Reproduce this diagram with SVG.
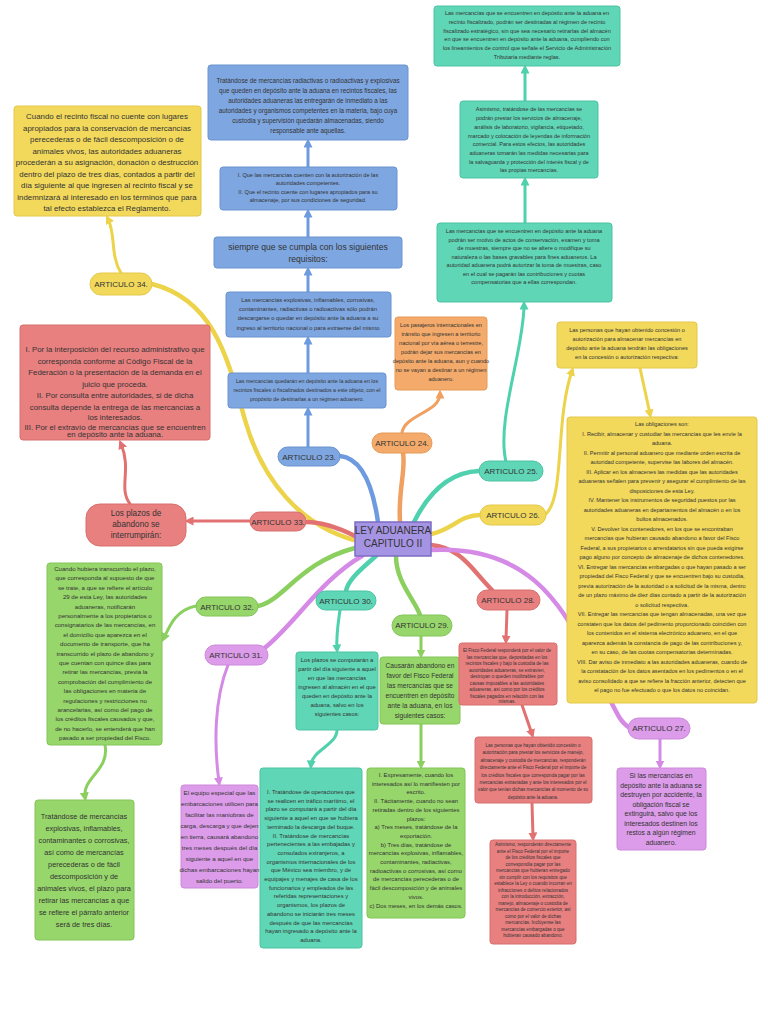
<svg xmlns="http://www.w3.org/2000/svg" width="768" height="1024" viewBox="0 0 768 1024">
<style>
text{font-family:"Liberation Sans",Arial,sans-serif;fill:#333;text-anchor:middle}
.yb{fill:#f2d95c;stroke:#e3c84a;stroke-width:1}
.bb{fill:#7ea6e0;stroke:#6a93d0;stroke-width:1}
.tb{fill:#5fd6b6;stroke:#4cc4a4;stroke-width:1}
.rb{fill:#e88080;stroke:#d86e6e;stroke-width:1}
.gb{fill:#97d66b;stroke:#84c458;stroke-width:1}
.pb{fill:#dc9ce9;stroke:#cc88da;stroke-width:1}
.ob{fill:#f4aa6a;stroke:#e59a58;stroke-width:1}
.c{fill:none;stroke-linecap:round}
.cy{stroke:#ecd34a}.cbl{stroke:#6e9be0}.ct{stroke:#4fd1ae}.cr{stroke:#e27272}.cg{stroke:#8bd05e}.cp{stroke:#d58ae6}.co{stroke:#f0a060}
.w{stroke-width:4.5}.s{stroke-width:3}
</style>
<defs>
<marker id="ay" viewBox="0 0 6 6" refX="3" refY="3" markerWidth="3" markerHeight="3" orient="auto"><path d="M0,0L6,3L0,6z" fill="#ecd34a"/></marker>
<marker id="ab" viewBox="0 0 6 6" refX="3" refY="3" markerWidth="3" markerHeight="3" orient="auto"><path d="M0,0L6,3L0,6z" fill="#6e9be0"/></marker>
<marker id="at" viewBox="0 0 6 6" refX="3" refY="3" markerWidth="3" markerHeight="3" orient="auto"><path d="M0,0L6,3L0,6z" fill="#4fd1ae"/></marker>
<marker id="ar" viewBox="0 0 6 6" refX="3" refY="3" markerWidth="3" markerHeight="3" orient="auto"><path d="M0,0L6,3L0,6z" fill="#e27272"/></marker>
<marker id="ag" viewBox="0 0 6 6" refX="3" refY="3" markerWidth="3" markerHeight="3" orient="auto"><path d="M0,0L6,3L0,6z" fill="#8bd05e"/></marker>
<marker id="ap" viewBox="0 0 6 6" refX="3" refY="3" markerWidth="3" markerHeight="3" orient="auto"><path d="M0,0L6,3L0,6z" fill="#d58ae6"/></marker>
<marker id="ao" viewBox="0 0 6 6" refX="3" refY="3" markerWidth="3" markerHeight="3" orient="auto"><path d="M0,0L6,3L0,6z" fill="#f0a060"/></marker>
</defs>
<rect width="768" height="1024" fill="#fff"/>

<g id="connectors">
<path class="c cy w" d="M354 540 C 300 525, 262 480, 245 420 S 215 300, 152 284"/>
<path class="c cr w" d="M355 536 C 335 526, 320 522, 306 522"/>
<path class="c cbl w" d="M378 522 C 372 480, 360 458, 340 456"/>
<path class="c co w" d="M400 522 C 398 490, 406 470, 403 453"/>
<path class="c ct w" d="M414 522 C 430 490, 452 472, 479 471"/>
<path class="c cy w" d="M431 534 C 452 530, 460 515, 480 515"/>
<path class="c cr w" d="M431 545 C 462 548, 472 570, 492 590"/>
<path class="c cp w" d="M431 550 C 525 545, 560 600, 590 660 S 620 722, 630 728"/>
<path class="c cg w" d="M396 556 C 396 582, 415 600, 420 615"/>
<path class="c ct w" d="M376 556 C 360 570, 348 580, 346 591"/>
<path class="c cg w" d="M355 548 C 300 562, 282 602, 258 606"/>
<path class="c cp w" d="M362 556 C 320 580, 292 628, 262 650"/>
<path class="c cy s" d="M121 273 C 110 255, 116 235, 108 219" marker-end="url(#ay)"/>
<path class="c cr s" d="M250 521 L 189 521" marker-end="url(#ar)"/>
<path class="c cr s" d="M130 504 C 118 488, 132 470, 121 444" marker-end="url(#ar)"/>
<path class="c cbl s" d="M308 447 L 308 411" marker-end="url(#ab)"/>
<path class="c cbl s" d="M308 373 L 308 340" marker-end="url(#ab)"/>
<path class="c cbl s" d="M308 292 L 308 271" marker-end="url(#ab)"/>
<path class="c cbl s" d="M308 237 L 308 213" marker-end="url(#ab)"/>
<path class="c cbl s" d="M308 167 L 308 143" marker-end="url(#ab)"/>
<path class="c co s" d="M402 433 C 404 415, 440 412, 440 394" marker-end="url(#ao)"/>
<path class="c ct s" d="M506 462 C 496 420, 524 350, 524 305" marker-end="url(#at)"/>
<path class="c ct s" d="M525 223 L 525 181" marker-end="url(#at)"/>
<path class="c ct s" d="M525 101 L 525 69" marker-end="url(#at)"/>
<path class="c cy s" d="M546 514 C 565 495, 555 420, 572 371" marker-end="url(#ay)"/>
<path class="c cy s" d="M640 368 L 650 414" marker-end="url(#ay)"/>
<path class="c cr s" d="M507 610 L 506 640" marker-end="url(#ar)"/>
<path class="c cr s" d="M522 705 L 532 734" marker-end="url(#ar)"/>
<path class="c cr s" d="M532 803 L 533 837" marker-end="url(#ar)"/>
<path class="c cp s" d="M660 739 L 660 765" marker-end="url(#ap)"/>
<path class="c cg s" d="M421 636 L 421 654" marker-end="url(#ag)"/>
<path class="c cg s" d="M421 724 L 421 765" marker-end="url(#ag)"/>
<path class="c ct s" d="M340 610 C 338 625, 336 635, 337 649" marker-end="url(#at)"/>
<path class="c ct s" d="M337 730 C 337 745, 312 750, 311 765" marker-end="url(#at)"/>
<path class="c cg s" d="M196 606 C 176 610, 170 625, 164 638" marker-end="url(#ag)"/>
<path class="c cg s" d="M105 745 C 110 770, 82 778, 85 797" marker-end="url(#ag)"/>
<path class="c cp s" d="M228 665 C 214 700, 214 745, 219 782" marker-end="url(#ap)"/>
</g>

<g id="center">
<rect x="355" y="522" width="76" height="34" fill="#a594e3" stroke="#7d6cc4" stroke-width="1.5"/>
<text x="393" y="534" font-size="10">LEY ADUANERA</text>
<text x="393" y="547" font-size="10">CAPITULO II</text>
</g>

<g id="art34">
<rect x="90" y="273" width="62" height="22" rx="11" class="yb"/>
<text x="121" y="287" font-size="8">ARTICULO 34.</text>
</g>
<g id="art33">
<rect x="250" y="512" width="56" height="19" rx="9.5" class="rb"/>
<text x="278" y="525" font-size="8">ARTICULO 33.</text>
</g>
<g id="art23">
<rect x="278" y="447" width="62" height="19" rx="9.5" class="bb"/>
<text x="309" y="460" font-size="8">ARTICULO 23.</text>
</g>
<g id="art24">
<rect x="372" y="433" width="60" height="20" rx="10" class="ob"/>
<text x="402" y="446" font-size="8">ARTICULO 24.</text>
</g>
<g id="art25">
<rect x="479" y="461" width="64" height="20" rx="10" class="tb"/>
<text x="511" y="474" font-size="8">ARTICULO 25.</text>
</g>
<g id="art26">
<rect x="480" y="505" width="66" height="20" rx="10" class="yb"/>
<text x="513" y="518" font-size="8">ARTICULO 26.</text>
</g>
<g id="art28">
<rect x="477" y="590" width="63" height="20" rx="10" class="rb"/>
<text x="508" y="603" font-size="8">ARTICULO 28.</text>
</g>
<g id="art27">
<rect x="628" y="718" width="62" height="21" rx="10.5" class="pb"/>
<text x="659" y="731" font-size="8">ARTICULO 27.</text>
</g>
<g id="art29">
<rect x="392" y="615" width="60" height="21" rx="10.5" class="gb"/>
<text x="422" y="628" font-size="8">ARTICULO 29.</text>
</g>
<g id="art30">
<rect x="316" y="591" width="60" height="19" rx="9.5" class="tb"/>
<text x="346" y="604" font-size="8">ARTICULO 30.</text>
</g>
<g id="art32">
<rect x="196" y="597" width="62" height="19" rx="9.5" class="gb"/>
<text x="227" y="610" font-size="8">ARTICULO 32.</text>
</g>
<g id="art31">
<rect x="205" y="645" width="63" height="20" rx="10" class="pb"/>
<text x="236" y="658" font-size="8">ARTICULO 31.</text>
</g>

<g id="yellow-left">
<rect x="14" y="106" width="187" height="110" rx="3" class="yb"/>
<g font-size="7.9">
<text x="107" y="119">Cuando el recinto fiscal no cuente con lugares</text>
<text x="107" y="130.5">apropiados para la conservación de mercancías</text>
<text x="107" y="142">perecederas o de fácil descomposición o de</text>
<text x="107" y="153.5">animales vivos, las autoridades aduaneras</text>
<text x="107" y="165">procederán a su asignación, donación o destrucción</text>
<text x="107" y="176.5">dentro del plazo de tres días, contados a partir del</text>
<text x="107" y="188">día siguiente al que ingresen al recinto fiscal y se</text>
<text x="107" y="199.5">indemnizará al interesado en los términos que para</text>
<text x="107" y="211">tal efecto establezca el Reglamento.</text>
</g>
</g>

<g id="red-left">
<rect x="20" y="325" width="190" height="115" rx="3" class="rb"/>
<g font-size="7.8">
<text x="115" y="352">I. Por la interposición del recurso administrativo que</text>
<text x="115" y="363.5">corresponda conforme al Código Fiscal de la</text>
<text x="115" y="375">Federación o la presentación de la demanda en el</text>
<text x="115" y="386.5">juicio que proceda.</text>
<text x="115" y="398">II. Por consulta entre autoridades, si de dicha</text>
<text x="115" y="409.5">consulta depende la entrega de las mercancías a</text>
<text x="115" y="420">los interesados.</text>
<text x="115" y="429.5">III. Por el extravío de mercancías que se encuentren</text>
<text x="115" y="437">en depósito ante la aduana.</text>
</g>
</g>

<g id="plazos">
<rect x="86" y="504" width="100" height="42" rx="14" class="rb"/>
<g font-size="8.2">
<text x="136" y="516">Los plazos de</text>
<text x="136" y="527">abandono  se</text>
<text x="136" y="538">interrumpirán:</text>
</g>
</g>

<g id="blue1">
<rect x="208" y="65" width="200" height="75" rx="3" class="bb"/>
<g font-size="6.3">
<text x="308" y="83">Tratándose de mercancías radiactivas o radioactivas y explosivas</text>
<text x="308" y="93">que queden en depósito ante la aduana en recintos fiscales, las</text>
<text x="308" y="103">autoridades aduaneras las entregarán de inmediato a las</text>
<text x="308" y="113">autoridades y organismos competentes en la materia, bajo cuya</text>
<text x="308" y="123">custodia y supervisión quedarán almacenadas, siendo</text>
<text x="308" y="133">responsable ante aquellas.</text>
</g>
</g>
<g id="blue2">
<rect x="220" y="167" width="177" height="43" rx="3" class="bb"/>
<g font-size="5.6">
<text x="308" y="177">I. Que las mercancías cuenten con la autorización de las</text>
<text x="308" y="185">autoridades competentes.</text>
<text x="308" y="194">II. Que el recinto cuente con lugares apropiados para su</text>
<text x="308" y="202">almacenaje, por sus condiciones de seguridad.</text>
</g>
</g>
<g id="blue3">
<rect x="214" y="237" width="188" height="31" rx="3" class="bb"/>
<g font-size="8.6">
<text x="308" y="250">siempre que se cumpla con los siguientes</text>
<text x="308" y="262">requisitos:</text>
</g>
</g>
<g id="blue4">
<rect x="226" y="292" width="165" height="45" rx="3" class="bb"/>
<g font-size="5.8">
<text x="308" y="302">Las mercancías explosivas, inflamables, corrosivas,</text>
<text x="308" y="311">contaminantes, radiactivas o radioactivas sólo podrán</text>
<text x="308" y="320">descargarse o quedar en depósito ante la aduana a su</text>
<text x="308" y="329.5">ingreso al territorio nacional o para extraerse del mismo</text>
</g>
</g>
<g id="blue5">
<rect x="228" y="373" width="158" height="35" rx="3" class="bb"/>
<g font-size="5.3">
<text x="307" y="383">Las mercancías quedarán en depósito ante la aduana en los</text>
<text x="307" y="392">recintos fiscales o fiscalizados destinados a este objeto, con el</text>
<text x="307" y="401">propósito de destinarlas a un régimen aduanero.</text>
</g>
</g>

<g id="teal1">
<rect x="434" y="6" width="186" height="60" rx="3" class="tb"/>
<g font-size="5.6">
<text x="527" y="15">Las mercancías que se encuentren en depósito ante la aduana en</text>
<text x="527" y="24">recinto fiscalizado, podrán ser destinadas al régimen de recinto</text>
<text x="527" y="32.5">fiscalizado estratégico, sin que sea necesario retirarlas del almacén</text>
<text x="527" y="41">en que se encuentren en depósito ante la aduana, cumpliendo con</text>
<text x="527" y="50">los lineamientos de control que señale el Servicio de Administración</text>
<text x="527" y="58.5">Tributaria mediante reglas.</text>
</g>
</g>
<g id="teal2">
<rect x="460" y="101" width="138" height="77" rx="3" class="tb"/>
<g font-size="5.5">
<text x="529" y="111">Asimismo, tratándose de las mercancías se</text>
<text x="529" y="120">podrán prestar los servicios de almacenaje,</text>
<text x="529" y="128.5">análisis de laboratorio, vigilancia, etiquetado,</text>
<text x="529" y="137.5">marcado y colocación de leyendas de información</text>
<text x="529" y="146">comercial. Para estos efectos, las autoridades</text>
<text x="529" y="155">aduaneras tomarán las medidas necesarias para</text>
<text x="529" y="163.5">la salvaguarda y protección del interés fiscal y de</text>
<text x="529" y="172">las propias mercancías.</text>
</g>
</g>
<g id="teal3">
<rect x="437" y="223" width="175" height="79" rx="3" class="tb"/>
<g font-size="5.6">
<text x="524" y="233">Las mercancías que se encuentren en depósito ante la aduana</text>
<text x="524" y="241.5">podrán ser motivo de actos de conservación, examen y toma</text>
<text x="524" y="250">de muestras, siempre que no se altere o modifique su</text>
<text x="524" y="258.5">naturaleza o las bases gravables para fines aduaneros. La</text>
<text x="524" y="267">autoridad aduanera podrá autorizar la toma de muestras, caso</text>
<text x="524" y="275.5">en el cual se pagarán las contribuciones y cuotas</text>
<text x="524" y="284">compensatorias que a ellas correspondan.</text>
</g>
</g>

<g id="orange">
<rect x="395" y="317" width="92" height="73" rx="3" class="ob"/>
<g font-size="5.6">
<text x="441" y="327">Los pasajeros internacionales en</text>
<text x="441" y="336">tránsito que ingresen a territorio</text>
<text x="441" y="345">nacional por vía aérea o terrestre,</text>
<text x="441" y="354">podrán dejar sus mercancías en</text>
<text x="441" y="363">depósito ante la aduana, aun y cuando</text>
<text x="441" y="372">no se vayan a destinar a un régimen</text>
<text x="441" y="381">aduanero.</text>
</g>
</g>

<g id="yellow-top-right">
<rect x="557" y="322" width="140" height="46" rx="3" class="yb"/>
<g font-size="5.6">
<text x="627" y="332">Las personas que hayan obtenido concesión o</text>
<text x="627" y="341">autorización para almacenar mercancías en</text>
<text x="627" y="350">depósito ante la aduana tendrán las obligaciones</text>
<text x="627" y="359">en la concesión o autorización respectiva:</text>
</g>
</g>

<g id="yellow-right">
<rect x="567" y="417" width="190" height="286" rx="3" class="yb"/>
<g font-size="5.6">
<text x="662" y="426">Las obligaciones son:</text>
<text x="662" y="435.5">I. Recibir, almacenar y custodiar las mercancías que les envíe la</text>
<text x="662" y="445">aduana.</text>
<text x="662" y="454.5">II. Permitir al personal aduanero que mediante orden escrita de</text>
<text x="662" y="464">autoridad competente, supervise las labores del almacén.</text>
<text x="662" y="473.5">III. Aplicar en los almacenes las medidas que las autoridades</text>
<text x="662" y="483">aduaneras señalen para prevenir y asegurar el cumplimiento de las</text>
<text x="662" y="492.5">disposiciones de esta Ley.</text>
<text x="662" y="502">IV. Mantener los instrumentos de seguridad puestos por las</text>
<text x="662" y="511.5">autoridades aduaneras en departamentos del almacén o en los</text>
<text x="662" y="521">bultos almacenados.</text>
<text x="662" y="530.5">V. Devolver los contenedores, en los que se encontraban</text>
<text x="662" y="540">mercancías que hubieran causado abandono a favor del Fisco</text>
<text x="662" y="549.5">Federal, a sus propietarios o arrendatarios sin que pueda exigirse</text>
<text x="662" y="559">pago alguno por concepto de almacenaje de dichos contenedores.</text>
<text x="662" y="568.5">VI. Entregar las mercancías embargadas o que hayan pasado a ser</text>
<text x="662" y="578">propiedad del Fisco Federal y que se encuentren bajo su custodia,</text>
<text x="662" y="587.5">previa autorización de la autoridad o a solicitud de la misma, dentro</text>
<text x="662" y="597">de un plazo máximo de diez días contado a partir de la autorización</text>
<text x="662" y="606.5">o solicitud respectiva.</text>
<text x="662" y="616">VII. Entregar las mercancías que tengan almacenadas, una vez que</text>
<text x="662" y="625.5">constaten que los datos del pedimento proporcionado coinciden con</text>
<text x="662" y="635">los contenidos en el sistema electrónico aduanero, en el que</text>
<text x="662" y="644.5">aparezca además la constancia de pago de las contribuciones y,</text>
<text x="662" y="654">en su caso, de las cuotas compensatorias determinadas.</text>
<text x="662" y="663.5">VIII. Dar aviso de inmediato a las autoridades aduaneras, cuando de</text>
<text x="662" y="673">la constatación de los datos asentados en los pedimentos o en el</text>
<text x="662" y="682.5">aviso consolidado a que se refiere la fracción anterior, detecten que</text>
<text x="662" y="692">el pago no fue efectuado o que los datos no coincidan.</text>
</g>
</g>

<g id="green-left">
<rect x="47" y="563" width="115" height="182" rx="3" class="gb"/>
<g font-size="6.1">
<text x="105" y="571">Cuando hubiera transcurrido el plazo,</text>
<text x="105" y="580.4">que corresponda al supuesto de que</text>
<text x="105" y="589.8">se trate, a que se refiere el artículo</text>
<text x="105" y="599.2">29 de esta Ley, las autoridades</text>
<text x="105" y="608.6">aduaneras,  notificarán</text>
<text x="105" y="618">personalmente a los propietarios o</text>
<text x="105" y="627.4">consignatarios de las mercancías, en</text>
<text x="105" y="636.8">el domicilio que aparezca en el</text>
<text x="105" y="646.2">documento de transporte, que ha</text>
<text x="105" y="655.6">transcurrido el plazo de abandono y</text>
<text x="105" y="665">que cuentan con quince días para</text>
<text x="105" y="674.4">retirar las mercancías, previa la</text>
<text x="105" y="683.8">comprobación del cumplimiento de</text>
<text x="105" y="693.2">las obligaciones en materia de</text>
<text x="105" y="702.6">regulaciones y restricciones no</text>
<text x="105" y="712">arancelarias, así como del pago de</text>
<text x="105" y="721.4">los créditos fiscales causados y que,</text>
<text x="105" y="730.8">de no hacerlo, se entenderá que han</text>
<text x="105" y="740.2">pasado a ser propiedad del Fisco.</text>
</g>
</g>

<g id="green-left-bottom">
<rect x="35" y="800" width="99" height="140" rx="3" class="gb"/>
<g font-size="7.3">
<text x="84" y="819">Tratándose de mercancías</text>
<text x="84" y="831">explosivas, inflamables,</text>
<text x="84" y="843">contaminantes o corrosivas,</text>
<text x="84" y="855">así como de mercancías</text>
<text x="84" y="867">perecederas o de fácil</text>
<text x="84" y="879">descomposición y de</text>
<text x="84" y="891">animales vivos, el plazo para</text>
<text x="84" y="903">retirar las mercancías a que</text>
<text x="84" y="915">se refiere el párrafo anterior</text>
<text x="84" y="927">será de tres días.</text>
</g>
</g>

<g id="purple-31">
<rect x="181" y="785" width="77" height="103" rx="3" class="pb"/>
<g font-size="6.2">
<text x="219.5" y="795">El equipo especial que las</text>
<text x="219.5" y="806">embarcaciones utilicen para</text>
<text x="219.5" y="817">facilitar las maniobras de</text>
<text x="219.5" y="828">carga, descarga y que dejen</text>
<text x="219.5" y="839">en tierra, causará abandono</text>
<text x="219.5" y="850">tres meses después del día</text>
<text x="219.5" y="861">siguiente a aquel en que</text>
<text x="219.5" y="872">dichas embarcaciones hayan</text>
<text x="219.5" y="883">salido del puerto.</text>
</g>
</g>

<g id="teal-30">
<rect x="296" y="652" width="82" height="78" rx="3" class="tb"/>
<g font-size="5.8">
<text x="337" y="662">Los plazos se computarán a</text>
<text x="337" y="671">partir del día siguiente a aquel</text>
<text x="337" y="680">en que las mercancías</text>
<text x="337" y="689">ingresen al almacén en el que</text>
<text x="337" y="698">queden en depósito ante la</text>
<text x="337" y="707">aduana, salvo en los</text>
<text x="337" y="716">siguientes casos:</text>
</g>
</g>

<g id="teal-30b">
<rect x="260" y="768" width="102" height="180" rx="3" class="tb"/>
<g font-size="5.9">
<text x="311" y="794">I. Tratándose de operaciones que</text>
<text x="311" y="802.7">se realicen en tráfico marítimo, el</text>
<text x="311" y="811.4">plazo se computará a partir del día</text>
<text x="311" y="820.1">siguiente a aquel en que se hubiera</text>
<text x="311" y="828.8">terminado la descarga del buque.</text>
<text x="311" y="837.5">II. Tratándose de mercancías</text>
<text x="311" y="846.2">pertenecientes a las embajadas y</text>
<text x="311" y="854.9">consulados extranjeros, a</text>
<text x="311" y="863.6">organismos internacionales de los</text>
<text x="311" y="872.3">que México sea miembro, y de</text>
<text x="311" y="881">equipajes y menajes de casa de los</text>
<text x="311" y="889.7">funcionarios y empleados de las</text>
<text x="311" y="898.4">referidas representaciones y</text>
<text x="311" y="907.1">organismos, los plazos de</text>
<text x="311" y="915.8">abandono se iniciarán tres meses</text>
<text x="311" y="924.5">después de que las mercancías</text>
<text x="311" y="933.2">hayan ingresado a depósito ante la</text>
<text x="311" y="941.9">aduana.</text>
</g>
</g>

<g id="green-29">
<rect x="380" y="657" width="80" height="67" rx="3" class="gb"/>
<g font-size="6.6">
<text x="420" y="668">Causarán abandono en</text>
<text x="420" y="678">favor del Fisco Federal</text>
<text x="420" y="688">las mercancías que se</text>
<text x="420" y="698">encuentren en depósito</text>
<text x="420" y="708">ante la aduana, en los</text>
<text x="420" y="718">siguientes casos:</text>
</g>
</g>

<g id="green-29b">
<rect x="367" y="768" width="98" height="150" rx="3" class="gb"/>
<g font-size="5.9">
<text x="416" y="777">I. Expresamente, cuando los</text>
<text x="416" y="785.7">interesados así lo manifiesten por</text>
<text x="416" y="794.4">escrito.</text>
<text x="416" y="803.1">II. Tácitamente, cuando no sean</text>
<text x="416" y="811.8">retiradas dentro de los siguientes</text>
<text x="416" y="820.5">plazos:</text>
<text x="416" y="829.2">a) Tres meses, tratándose de la</text>
<text x="416" y="837.9">exportación.</text>
<text x="416" y="846.6">b) Tres días, tratándose de</text>
<text x="416" y="855.3">mercancías explosivas, inflamables,</text>
<text x="416" y="864">contaminantes, radiactivas,</text>
<text x="416" y="872.7">radioactivas o corrosivas, así como</text>
<text x="416" y="881.4">de mercancías perecederas o de</text>
<text x="416" y="890.1">fácil descomposición y de animales</text>
<text x="416" y="898.8">vivos.</text>
<text x="416" y="907.5">c) Dos meses, en los demás casos.</text>
</g>
</g>

<g id="purple-27">
<rect x="617" y="768" width="89" height="82" rx="3" class="pb"/>
<g font-size="6.8">
<text x="661" y="778">Si las mercancías en</text>
<text x="661" y="787.5">depósito ante la aduana se</text>
<text x="661" y="797">destruyen por accidente, la</text>
<text x="661" y="806.5">obligación fiscal se</text>
<text x="661" y="816">extinguirá, salvo que los</text>
<text x="661" y="825.5">interesados destinen los</text>
<text x="661" y="835">restos a algún régimen</text>
<text x="661" y="844.5">aduanero.</text>
</g>
</g>

<g id="red-28a">
<rect x="459" y="643" width="98" height="62" rx="3" class="rb"/>
<g font-size="4.6">
<text x="507" y="652">El Fisco Federal responderá por el valor de</text>
<text x="507" y="658.5">las mercancías que, depositadas en los</text>
<text x="507" y="665">recintos fiscales y bajo la custodia de las</text>
<text x="507" y="671.5">autoridades aduaneras, se extravíen,</text>
<text x="507" y="678">destruyan o queden inutilizables por</text>
<text x="507" y="684.5">causas imputables a las autoridades</text>
<text x="507" y="691">aduaneras, así como por los créditos</text>
<text x="507" y="697.5">fiscales pagados en relación con las</text>
<text x="507" y="703">mismas.</text>
</g>
</g>

<g id="red-28b">
<rect x="475" y="737" width="117" height="66" rx="3" class="rb"/>
<g font-size="4.6">
<text x="533" y="747">Las personas que hayan obtenido concesión o</text>
<text x="533" y="754.4">autorización para prestar los servicios de manejo,</text>
<text x="533" y="761.8">almacenaje y custodia de mercancías, responderán</text>
<text x="533" y="769.2">directamente ante el Fisco Federal por el importe de</text>
<text x="533" y="776.6">los créditos fiscales que corresponda pagar por las</text>
<text x="533" y="784">mercancías extraviadas y ante los interesados por el</text>
<text x="533" y="791.4">valor que tenían dichas mercancías al momento de su</text>
<text x="533" y="798.8">depósito ante la aduana.</text>
</g>
</g>

<g id="red-28c">
<rect x="490" y="840" width="86" height="104" rx="3" class="rb"/>
<g font-size="4.6">
<text x="533" y="846">Asimismo, responderán directamente</text>
<text x="533" y="852.5">ante el Fisco Federal por el importe</text>
<text x="533" y="859">de los créditos fiscales que</text>
<text x="533" y="865.5">correspondía pagar por las</text>
<text x="533" y="872">mercancías que hubieran entregado</text>
<text x="533" y="878.5">sin cumplir con los requisitos que</text>
<text x="533" y="885">establece la Ley o cuando incurran en</text>
<text x="533" y="891.5">infracciones o delitos relacionados</text>
<text x="533" y="898">con la introducción, extracción,</text>
<text x="533" y="904.5">manejo, almacenaje o custodia de</text>
<text x="533" y="911">mercancías de comercio exterior, así</text>
<text x="533" y="917.5">como por el valor de dichas</text>
<text x="533" y="924">mercancías. Inclúyense las</text>
<text x="533" y="930.5">mercancías embargadas o que</text>
<text x="533" y="937">hubieran causado abandono.</text>
</g>
</g>
</svg>
